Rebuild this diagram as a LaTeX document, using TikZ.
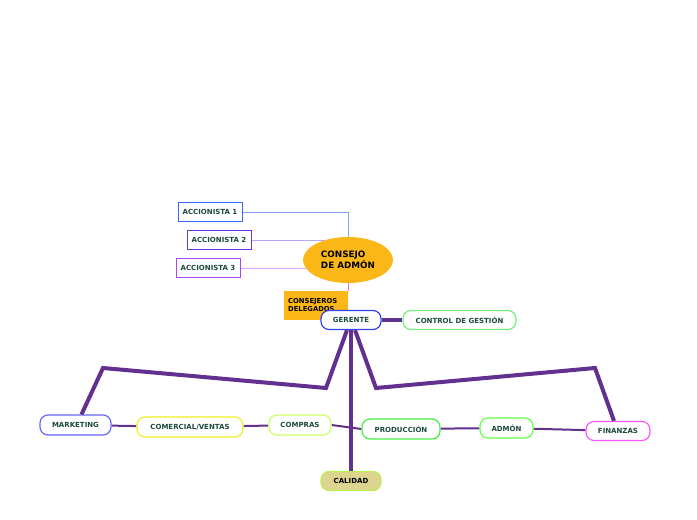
\documentclass[tikz,border=0pt]{standalone}
\usepackage{fontspec}
\setmainfont{DejaVu Sans}
\usetikzlibrary{shapes.geometric,backgrounds}
\definecolor{txt}{HTML}{1D4A3C}
\definecolor{purp}{HTML}{62308F}
\definecolor{orng}{HTML}{FBB617}
\definecolor{bAone}{HTML}{3366FF}
\definecolor{bAtwo}{HTML}{6633EE}
\definecolor{bAthree}{HTML}{AA44FF}
\definecolor{lAone}{HTML}{7FA3FF}
\definecolor{lAtwo}{HTML}{B0A8FF}
\definecolor{lAthree}{HTML}{E0A0FF}
\definecolor{pinkl}{HTML}{FF66CC}
\definecolor{bGer}{HTML}{3344EE}
\definecolor{bCtl}{HTML}{77EE77}
\definecolor{bMkt}{HTML}{6666FF}
\definecolor{bCom}{HTML}{EEEE22}
\definecolor{bCpr}{HTML}{CCFF66}
\definecolor{bPro}{HTML}{44EE44}
\definecolor{bAdm}{HTML}{66FF44}
\definecolor{bFin}{HTML}{FF55FF}
\definecolor{fCal}{HTML}{DDD48F}
\definecolor{bCal}{HTML}{BBEE55}
\tikzset{
  lbl/.style={font=\bfseries\fontsize{7}{8}\selectfont, text=txt, inner sep=0pt},
  accbox/.style={lbl, draw, line width=1pt, rectangle, minimum width=64pt, minimum height=19pt, fill=white},
  rbox/.style={lbl, draw, line width=1.2pt, rectangle, rounded corners=8pt, minimum height=19pt, fill=white},
  thick purple/.style={draw=purp, line width=4pt},
  thin purple/.style={draw=purp, line width=2pt},
}
\begin{document}
\begin{tikzpicture}[x=1pt,y=-1pt]
\useasboundingbox (0,0) rectangle (697,520);
% top nodes
\node[accbox, draw=bAone] (a1) at (210,212) {ACCIONISTA 1};
\node[accbox, draw=bAtwo] (a2) at (219,240) {ACCIONISTA 2};
\node[accbox, draw=bAthree] (a3) at (208,268) {ACCIONISTA 3};
\node[ellipse, fill=orng, minimum width=90pt, minimum height=46pt, inner sep=0pt,
      font=\bfseries\fontsize{8.8}{10.5}\selectfont, text=black, align=left] (cons) at (348,260) {CONSEJO\\DE ADMÓN};
\node[rectangle, fill=orng, minimum width=64pt, minimum height=29pt, inner sep=0pt] (cd) at (316,305.5) {};
\node[font=\bfseries\fontsize{6.8}{8.5}\selectfont, text=black, align=left, anchor=north west, inner sep=0pt] (cdt) at (288,298) {CONSEJEROS\\DELEGADOS};
\node[rbox, draw=bGer, minimum width=60pt] (ger) at (351,320) {GERENTE};
\node[rbox, draw=bCtl, minimum width=113pt] (ctl) at (459.5,320) {CONTROL DE GESTIÓN};
% bottom nodes
\node[rbox, draw=bMkt, minimum width=71pt, minimum height=20pt] (mkt) at (75.5,425) {MARKETING};
\node[rbox, draw=bCom, minimum width=106pt, minimum height=20pt] (com) at (190,427) {COMERCIAL/VENTAS};
\node[rbox, draw=bCpr, minimum width=62pt, minimum height=20pt] (cpr) at (300,425) {COMPRAS};
\node[rbox, draw=bPro, minimum width=78pt, minimum height=20pt] (pro) at (401,429) {PRODUCCIÓN};
\node[rbox, draw=bAdm, minimum width=53pt, minimum height=20pt] (adm) at (506.5,428) {ADMÓN};
\node[rbox, draw=bFin, minimum width=64pt, minimum height=19pt] (fin) at (618,431) {FINANZAS};
\node[rbox, draw=bCal, fill=fCal, minimum width=60pt, text=black] (cal) at (351,481) {CALIDAD};
% bend points
\coordinate (m1) at (326,388);
\coordinate (m2) at (103,368);
\coordinate (f1) at (376,388);
\coordinate (f2) at (595,368);
\begin{scope}[on background layer]
  \draw[lAone, line width=1pt] (a1.east) -| (cons.center);
  \draw[lAtwo, line width=1pt] (a2.east) -- (a2.east -| cons.center);
  \draw[lAthree, line width=1pt] (a3.east) -- (a3.east -| cons.center);
  \draw[pinkl, line width=1pt] (cons.center) -- (cons.center |- cd.north);
  \draw[thin purple] (mkt) -- (com);
  \draw[thin purple] (com) -- (cpr);
  \draw[thin purple] (cpr.east) -- (pro.west);
  \draw[thin purple] (pro) -- (adm);
  \draw[thin purple] (adm) -- (fin);
\end{scope}
\draw[thick purple] (ger.east) -- (ctl.west);
\draw[thick purple] (ger.south) -- (cal.north);
\draw[thick purple, line join=miter] ([xshift=-4pt]ger.south) -- (m1) -- (m2) -- ([xshift=6pt]mkt.north);
\draw[thick purple, line join=miter] ([xshift=4pt]ger.south) -- (f1) -- (f2) -- ([xshift=-4pt]fin.north);
\end{tikzpicture}
\end{document}
